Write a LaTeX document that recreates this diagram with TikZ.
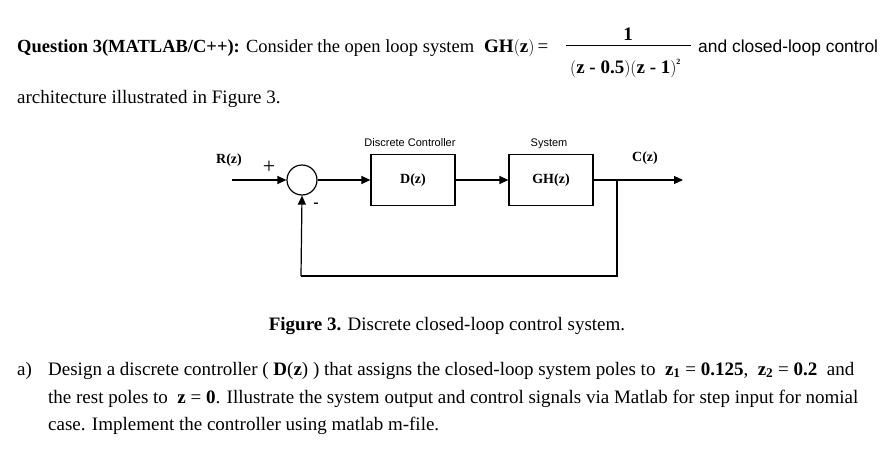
\documentclass[tikz,border=0pt]{standalone}
\usepackage{fontspec}
\setmainfont{Liberation Serif}
\newfontfamily\arial{Liberation Sans}
\usetikzlibrary{arrows.meta}
\begin{document}
\begin{tikzpicture}[x=1pt,y=-1pt,
  txt/.style={anchor=base west,inner sep=0pt,font=\fontsize{19}{22}\selectfont},
  lbl/.style={inner sep=0pt,font=\arial\fontsize{11}{13}\selectfont},
  blk/.style={draw,line width=1.2pt,minimum width=84pt,minimum height=51pt,inner sep=0pt,font=\bfseries\fontsize{14}{16}\selectfont},
  arr/.style={line width=1.2pt,-{Triangle[length=9pt,width=8pt]}},
  ln/.style={line width=1.2pt}]
\useasboundingbox (0,0) rectangle (892,450);
% header
\node[txt,font=\fontsize{18.5}{22}\selectfont] (q) at (17,52) {\textbf{Question 3(MATLAB/C++):} Consider the open loop system};
\node[txt] (gh) at (484,52) {\textbf{GH}$\bigl($\textbf{z}$\bigr)$\,=};
\node[txt,anchor=base] (one) at (628,40) {\textbf{1}};
\draw[thin] (566,45) -- (691,45);
\node[txt] (den) at (570,73) {$\bigl($\textbf{z - 0.5}$\bigr)\bigl($\textbf{z - 1}$\bigr)$\raisebox{9pt}{\fontsize{8}{9}\selectfont\textbf{2}}};
\node[txt,font=\arial\fontsize{17.4}{20}\selectfont] (acl) at (698,52) {and closed-loop control};
\node[txt] (arch) at (17,103) {architecture illustrated in Figure 3.};
% diagram
\node[draw,line width=1.2pt,circle,minimum size=30pt,inner sep=0pt] (s) at (302,180) {};
\coordinate (rin) at (232,180);
\node[inner sep=0pt,font=\bfseries\fontsize{14}{16}\selectfont] (r) at (229,160) {R(z)};
\node[inner sep=0pt,font=\fontsize{22}{22}\selectfont] (plus) at (269,167) {+};
\node[inner sep=0pt,font=\bfseries\fontsize{16}{16}\selectfont] (minus) at (316,205) {-};
\node[blk] (d) at (413,180) {D(z)};
\node[lbl,anchor=base] (dl) at (410,146) {Discrete Controller};
\node[blk] (g) at (551,180) {GH(z)};
\node[lbl,anchor=base] (gl) at (549,146) {System};
\coordinate (br) at (617,180);
\coordinate (out) at (683,180);
\node[inner sep=0pt,font=\bfseries\fontsize{14}{16}\selectfont] (c) at (645,158) {C(z)};
\coordinate (fb1) at (617,276);
\coordinate (fb2) at (301,276);
\draw[arr] (rin) -- (s);
\draw[arr] (s) -- (d);
\draw[arr] (d) -- (g);
\draw[ln] (g) -- (br);
\draw[arr] (br) -- (out);
\draw[ln] (br) -- (fb1) -- (fb2);
\draw[arr] (fb2) -- (s.south);
% caption
\node[txt,anchor=base] (cap) at (447,330) {\textbf{Figure 3.} Discrete closed-loop control system.};
\node[txt] (a) at (17,375) {a)};
\node[txt] (a1) at (48,375) {Design a discrete controller ( \textbf{D}(\textbf{z}) ) that assigns the closed-loop system poles to \ \textbf{z}$_{\mathbf{1}}$ = \textbf{0.125}, \ \textbf{z}$_{\mathbf{2}}$ = \textbf{0.2} \ and};
\node[txt] (a2) at (48,403) {the rest poles to \ \textbf{z} = \textbf{0}. Illustrate the system output and control signals via Matlab for step input for nomial};
\node[txt] (a3) at (48,430) {case. Implement the controller using matlab m-file.};
\end{tikzpicture}
\end{document}
